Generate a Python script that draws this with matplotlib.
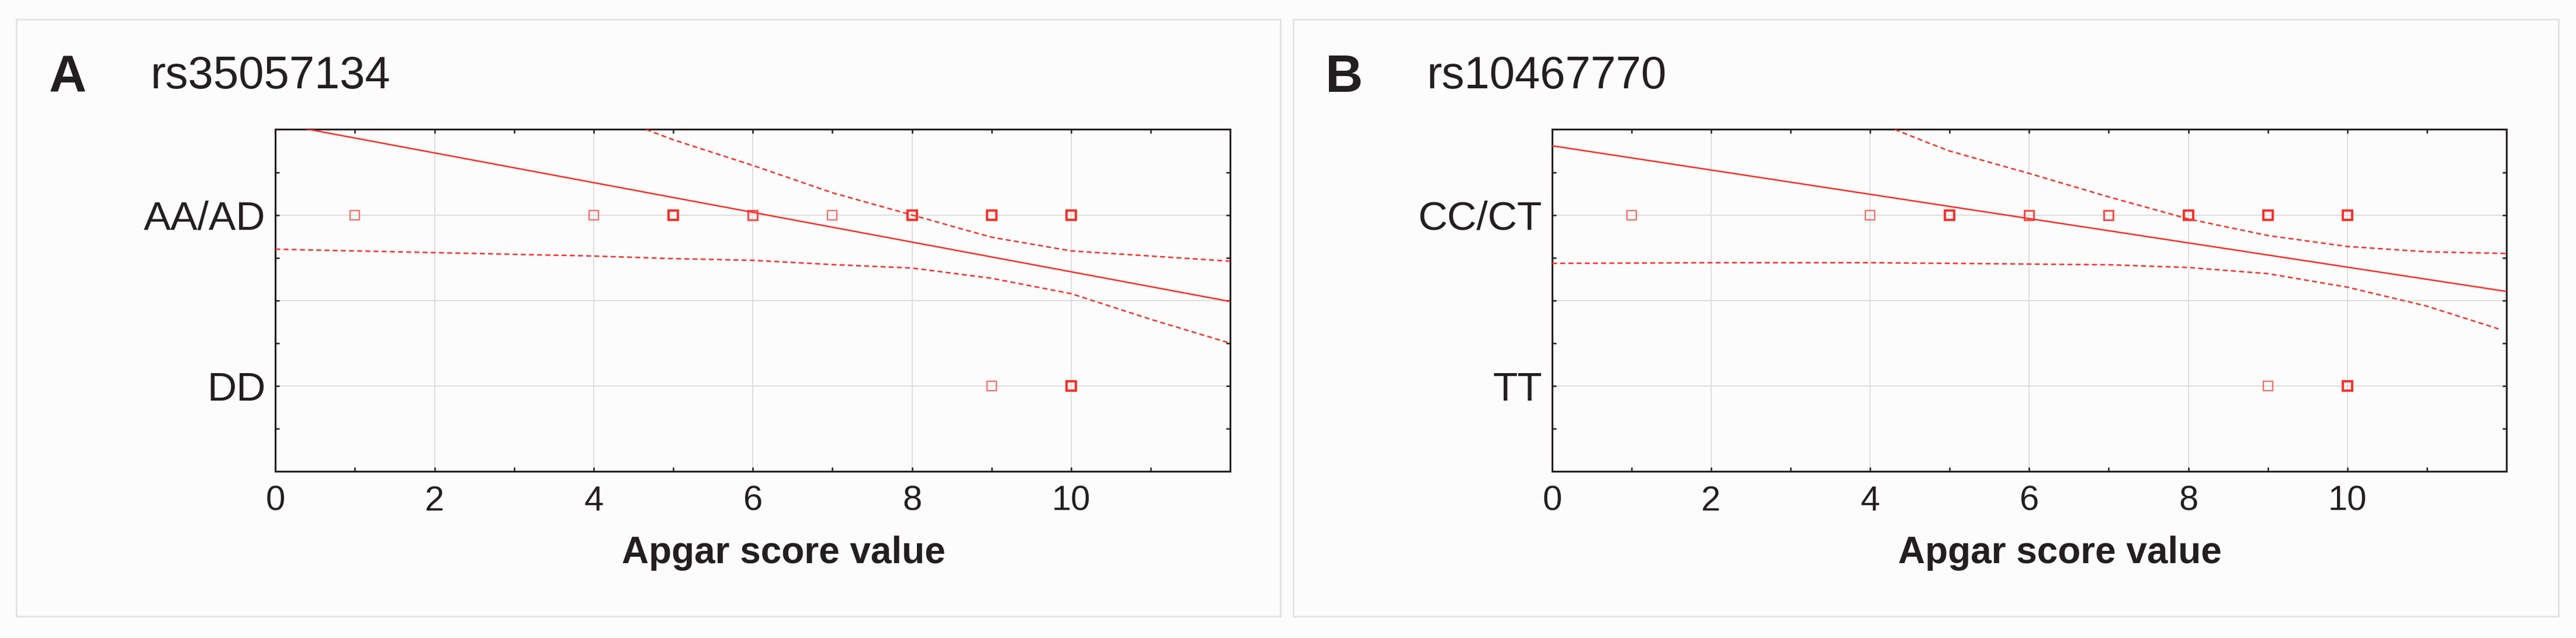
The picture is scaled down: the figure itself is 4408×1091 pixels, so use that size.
import matplotlib.pyplot as plt
from matplotlib.patches import Rectangle

plt.rcParams["font.family"] = ["Liberation Sans", "DejaVu Sans"]

INK = "#231F20"
RED = "#FF2B24"
GRID = "#DEDEDE"
BG = "#FCFCFC"

# genotype coding: 1 = common (AA/AD, CC/CT), 0 = rare homozygote (DD, TT)
a_title = "rs35057134"
a_labels = ["DD", "AA/AD"]
a_top_x = [1, 4, 5, 6, 7, 8, 9, 10]
a_top_w = [1, 1, 3, 2, 1, 3, 3, 3]
a_low_x = [9, 10]
a_low_w = [1, 3]
a_fit_x = [0, 12]
a_fit_y = [1.537, 0.494]
a_up_x = [4.66, 5.0, 6.0, 7.0, 8.0, 9.0, 10.0, 11.0, 12.0]
a_up_y = [1.50, 1.44, 1.29, 1.13, 1.00, 0.87, 0.79, 0.76, 0.73]
a_lo_x = [0, 2, 4, 5, 6, 7, 8, 9, 10, 11, 12]
a_lo_y = [0.80, 0.78, 0.76, 0.745, 0.735, 0.71, 0.69, 0.63, 0.54, 0.39, 0.25]

b_title = "rs10467770"
b_labels = ["TT", "CC/CT"]
b_top_x = [1, 4, 5, 6, 7, 8, 9, 10]
b_top_w = [1, 1, 3, 2, 2, 3, 3, 3]
b_low_x = [9, 10]
b_low_w = [1, 3]
b_fit_x = [0, 12]
b_fit_y = [1.405, 0.553]
b_up_x = [4.31, 4.74, 5.0, 6.0, 7.0, 8.0, 9.0, 10.0, 11.0, 12.0]
b_up_y = [1.50, 1.42, 1.374, 1.243, 1.106, 0.977, 0.880, 0.816, 0.785, 0.775]
b_lo_x = [0, 2, 4, 6, 7, 8, 9, 10, 11, 11.9]
b_lo_y = [0.717, 0.721, 0.721, 0.713, 0.709, 0.693, 0.657, 0.578, 0.467, 0.334]

x_ticks = [0, 2, 4, 6, 8, 10, 12]
x_ticklabels = ["0", "2", "4", "6", "8", "10", ""]
x_label = "Apgar score value"


def draw_panel(fig, rect, frame, letter, title, labels, top_x, top_w, low_x, low_w,
               fit_x, fit_y, up_x, up_y, lo_x, lo_y):
    fig.add_artist(Rectangle((frame[0], frame[1]), frame[2], frame[3],
                             transform=fig.transFigure, fill=False,
                             edgecolor="#E4E4E4", linewidth=2.2))
    fig.text(frame[0] + 0.0125, 0.856, letter, fontsize=64, fontweight="bold",
             color=INK, ha="left", va="baseline")
    fig.text(frame[0] + 0.052, 0.862, title, fontsize=56, color=INK,
             ha="left", va="baseline")

    ax = fig.add_axes(rect)
    ax.set_facecolor(BG)
    ax.set_xlim(0, 12)
    ax.set_ylim(-0.5, 1.5)

    ax.plot(fit_x, fit_y, color=RED, lw=1.8, zorder=3)
    ax.plot(up_x, up_y, color=RED, lw=1.8, dashes=(3.4, 2.2), zorder=3)
    ax.plot(lo_x, lo_y, color=RED, lw=1.8, dashes=(3.4, 2.2), zorder=3)

    for xs, ws, yv in ((top_x, top_w, 1), (low_x, low_w, 0)):
        for x, w in zip(xs, ws):
            ax.plot(x, yv, "s", ms=12, mfc="none", mec=RED,
                    mew=1.0 + 0.6 * w, alpha=0.55 + 0.15 * w, zorder=4)

    ax.set_xticks(x_ticks)
    ax.set_xticklabels(x_ticklabels)
    ax.set_xticks([1, 3, 5, 7, 9, 11], minor=True)
    ax.set_yticks([-0.5, 0, 0.5, 1, 1.5])
    ax.set_yticklabels(["", labels[0], "", labels[1], ""])
    ax.set_yticks([-0.25, 0.25, 0.75, 1.25], minor=True)

    ax.grid(True, which="major", color=GRID, lw=1.4, zorder=0)
    ax.tick_params(which="both", direction="in", top=True, right=True,
                   color=INK, width=1.8, length=5)
    ax.tick_params(axis="x", labelsize=43, pad=17, labelcolor=INK)
    ax.tick_params(axis="y", labelsize=50, pad=12, labelcolor=INK)
    for sp in ax.spines.values():
        sp.set_color(INK)
        sp.set_linewidth(2.2)

    ax.set_xlabel(x_label, fontsize=46, fontweight="bold", color=INK)
    ax.xaxis.set_label_coords(0.532, -0.188)
    return ax


fig = plt.figure(figsize=(44.08, 10.91), dpi=100)
fig.patch.set_facecolor(BG)

draw_panel(fig, [0.1069, 0.261, 0.3707, 0.536], [0.0064, 0.034, 0.4907, 0.9358],
           "A", a_title, a_labels, a_top_x, a_top_w, a_low_x, a_low_w,
           a_fit_x, a_fit_y, a_up_x, a_up_y, a_lo_x, a_lo_y)
draw_panel(fig, [0.6025, 0.261, 0.3705, 0.536], [0.5020, 0.034, 0.4911, 0.9358],
           "B", b_title, b_labels, b_top_x, b_top_w, b_low_x, b_low_w,
           b_fit_x, b_fit_y, b_up_x, b_up_y, b_lo_x, b_lo_y)

fig.savefig("out.png", dpi=100, facecolor=BG)
